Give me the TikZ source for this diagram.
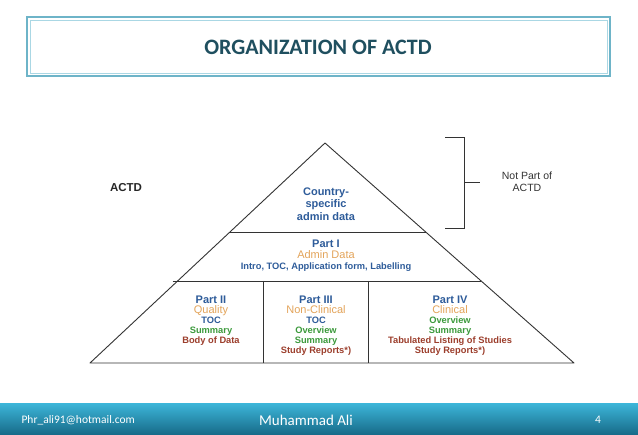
\documentclass[tikz,border=0pt]{standalone}
\usepackage{fontspec}
\setmainfont{Carlito}
\newfontfamily\lab{Liberation Sans}
\begin{document}
\begin{tikzpicture}[x=1pt,y=-1pt,
  tx/.style={font=\lab\bfseries\fontsize{10}{11.2}\selectfont,align=center,inner sep=0pt},
  ln/.style={draw=black!80,line width=0.9pt}]
\definecolor{tb}{HTML}{2E5C9A}
\definecolor{to}{HTML}{E3A45A}
\definecolor{tg}{HTML}{3C9A3C}
\definecolor{tr}{HTML}{9C3E2C}
\definecolor{ttl}{HTML}{1F4F5F}
\useasboundingbox (0,0) rectangle (638,435);
\fill[white] (0,0) rectangle (638,435);
% title
\draw[draw={rgb,255:red,110;green,180;blue,200},line width=1.6pt] (27,17) rectangle (610,76);
\draw[draw={rgb,255:red,170;green,215;blue,228},line width=0.6pt] (30,20) rectangle (607,73);
\node[font=\bfseries\fontsize{22}{26}\selectfont,text=ttl] (title) at (318,47) {ORGANIZATION OF ACTD};
% footer
\shade[top color={rgb,255:red,60;green,180;blue,215},bottom color={rgb,255:red,22;green,105;blue,135}] (0,404) rectangle (638,435);
\node[text=white,font=\fontsize{11.5}{13}\selectfont,anchor=west] (mail) at (18,420) {Phr\_ali91@hotmail.com};
\node[text=white,font=\fontsize{15}{17}\selectfont] (auth) at (306,420) {Muhammad Ali};
\node[text=white,font=\fontsize{11.5}{13}\selectfont] (pg) at (598,420) {4};
% pyramid
\coordinate (apex) at (325,143);
\coordinate (bl) at (90,363);
\coordinate (br) at (574,363);
\draw[ln,line join=round] (apex) -- (bl) -- (br) -- cycle;
\draw[ln] (229.9,232) -- (425.7,232);
\draw[ln] (172.6,281) -- (481.2,281);
\draw[ln] (263,281) -- (263,363);
\draw[ln] (368,281) -- (368,363);
% bracket
\draw[ln] (445,137) -- (464,137) -- (464,228) -- (445,228);
\draw[ln] (464,182) -- (480,182);
\node[tx,font=\lab\fontsize{10.5}{11.5}\selectfont,text=black!80] (np) at (527,182) {Not Part of\\ACTD};
\node[tx,font=\lab\bfseries\fontsize{11.5}{13}\selectfont,text=black!85] (actd) at (126,188) {ACTD};
% texts
\node[tx,text=tb,font=\lab\bfseries\fontsize{11}{12.5}\selectfont] (cs) at (326,204) {Country-\\specific\\admin data};
\node[tx] (p1) at (326,256) {\textcolor{tb}{\fontsize{11}{12.5}\selectfont Part I}\\\textcolor{to}{\mdseries\fontsize{11}{12.5}\selectfont Admin Data}\\\textcolor{tb}{\fontsize{9.3}{11}\selectfont Intro, TOC, Application form, Labelling}};
\node[tx,font=\lab\bfseries\fontsize{9.3}{10}\selectfont] (p2) at (211,321) {\textcolor{tb}{\fontsize{11}{12.5}\selectfont Part II}\\\textcolor{to}{\mdseries\fontsize{11}{12.5}\selectfont Quality}\\\textcolor{tb}{TOC}\\\textcolor{tg}{Summary}\\\textcolor{tr}{Body of Data}};
\node[tx,font=\lab\bfseries\fontsize{9.3}{10}\selectfont] (p3) at (316,326) {\textcolor{tb}{\fontsize{11}{12.5}\selectfont Part III}\\\textcolor{to}{\mdseries\fontsize{11}{12.5}\selectfont Non-Clinical}\\\textcolor{tb}{TOC}\\\textcolor{tg}{Overview}\\\textcolor{tg}{Summary}\\\textcolor{tr}{Study Reports*)}};
\node[tx,font=\lab\bfseries\fontsize{9.3}{10}\selectfont] (p4) at (450,326) {\textcolor{tb}{\fontsize{11}{12.5}\selectfont Part IV}\\\textcolor{to}{\mdseries\fontsize{11}{12.5}\selectfont Clinical}\\\textcolor{tg}{Overview}\\\textcolor{tg}{Summary}\\\textcolor{tr}{Tabulated Listing of Studies}\\\textcolor{tr}{Study Reports*)}};
\end{tikzpicture}
\end{document}
